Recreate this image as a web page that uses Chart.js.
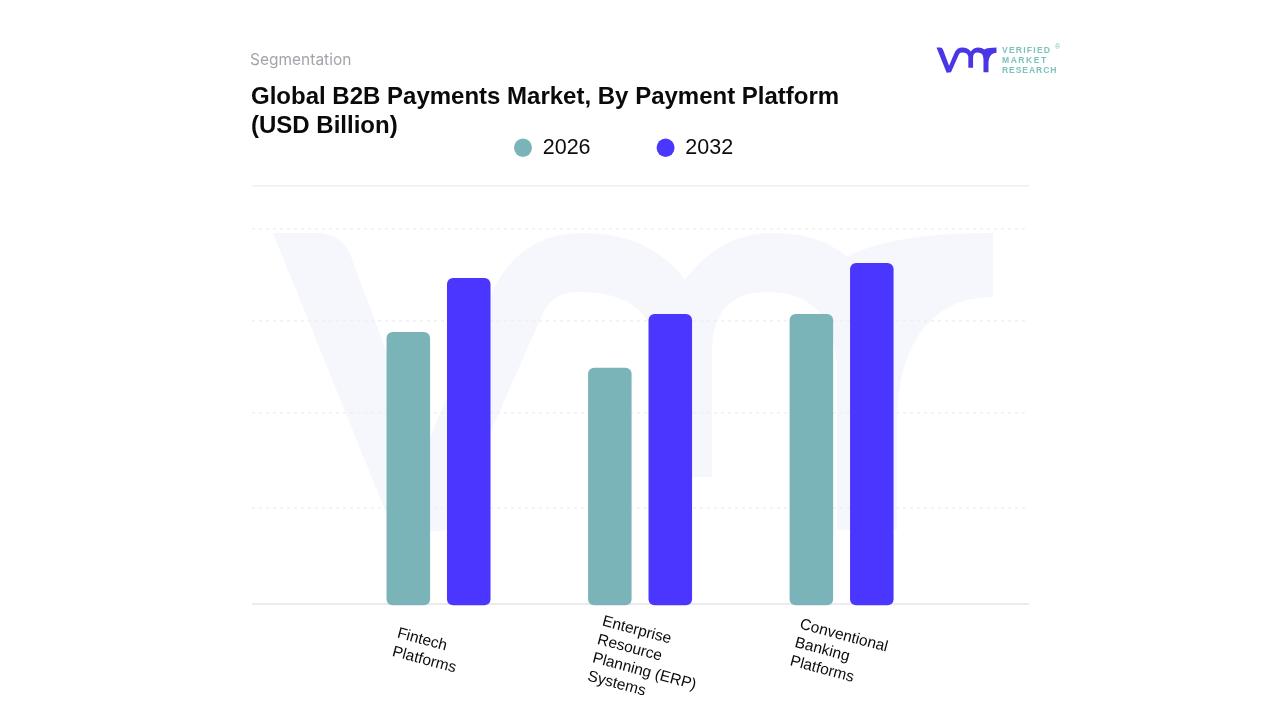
<!DOCTYPE html>
<html>
<head>
<meta charset="utf-8">
<script src="https://cdn.jsdelivr.net/npm/chart.js@4"></script>
<style>
html,body{margin:0;padding:0;background:#fff;width:1280px;height:720px;overflow:hidden}
.t{position:absolute;white-space:nowrap}
#seg{left:250px;top:50px;font:15.5px/19px Inter,sans-serif;color:#a3a3aa}
#title{left:251px;top:81px;font:bold 24px/29px "Liberation Sans",Arial,sans-serif;color:#0a0a0a}
#logo1,#logo2,#logo3{left:1002px;font:bold 8.6px/10px "Liberation Sans",Arial,sans-serif;color:#7cc2bf;letter-spacing:1.2px}
#logo1{top:45px}#logo2{top:55px;letter-spacing:1.5px}#logo3{top:64.5px;letter-spacing:.9px}
#reg{left:1055px;top:43px;font:7px/8px "Liberation Sans",Arial,sans-serif;color:#7cc2bf}
svg{position:absolute;left:0;top:0}
canvas{position:absolute;left:0;top:0}
</style>
</head>
<body>
<svg width="1280" height="720">
  <defs>
    <path id="vmr" d="M273 233 L322 233 Q345 236 353 262 L424 451 L490 297 Q517 233 583 233 Q650 233 685 280 Q720 233 773 233 Q820 233 847 257 Q890 233 993 233 L993 297 Q925 297 903 370 Q897 395 897 420 L897 530 L837 530 L837 370 Q835 292 767 292 Q712 292 712 353 L712 477 L655 477 L655 345 Q650 292 577 292 Q550 292 540 320 L447 530 L395 535 Z"/>
  </defs>
  <use href="#vmr" fill="#f6f7fd"/>
  <use href="#vmr" fill="#4a36e4" transform="translate(936.5 47.5) scale(0.0833) translate(-273 -233)"/>
</svg>
<canvas id="c" width="1280" height="720"></canvas>
<div class="t" id="seg">Segmentation</div>
<div class="t" id="title">Global B2B Payments Market, By Payment Platform<br>(USD Billion)</div>
<div class="t" id="logo1">VERIFIED</div>
<div class="t" id="logo2">MARKET</div>
<div class="t" id="logo3">RESEARCH</div>
<div class="t" id="reg">®</div>
<script>
const categories = [
  ["Fintech", "Platforms"],
  ["Enterprise", "Resource", "Planning (ERP)", "Systems"],
  ["Conventional", "Banking", "Platforms"]
];
const seriesNames = ["2026", "2032"];
const values2026 = [65.1, 56.5, 69.4];
const values2032 = [78.0, 69.4, 81.6];
const gridTicks = [0, 23, 45.7, 67.7, 89.7, 100];

const labelOffsetX = [-38.5, -35, -39];
const labelTop = [624, 612, 615];

function toPoints(arr){ return arr.map((y, i) => ({x: i, y})); }

const placeLegend = {
  id: 'placeLegend',
  beforeLayout(chart){
    chart.legend.isHorizontal = () => true;
  },
  afterLayout(chart){
    const l = chart.legend;
    const w = l.right - l.left;
    l.left = 448; l.right = 448 + w;
    l.top = 71;
  }
};

new Chart(document.getElementById('c'), {
  type: 'bar',
  data: {
    datasets: [
      {label: seriesNames[0], data: toPoints(values2026), backgroundColor: '#7bb4b8'},
      {label: seriesNames[1], data: toPoints(values2032), backgroundColor: '#4b36ff'}
    ]
  },
  plugins: [placeLegend],
  options: {
    responsive: false,
    animation: false,
    layout: {padding: {left: 252, right: 251, top: 186, bottom: 0}},
    datasets: {bar: {categoryPercentage: 0.6, barPercentage: 0.72, borderRadius: 6, borderSkipped: false, base: -0.3, clip: false}},
    scales: {
      x: {
        type: 'linear',
        offset: false,
        min: -0.9256,
        max: 2.93,
        grid: {display: false},
        border: {display: false},
        afterBuildTicks(scale){
          scale.ticks = categories.map((_, i) => ({value: i}));
          if (!scale._labelsPatched) {
            scale._labelsPatched = true;
            const orig = scale._computeLabelItems;
            scale._computeLabelItems = function(area){
              const items = orig.call(this, area);
              items.forEach((it, i) => {
                it.options.textAlign = 'left';
                it.options.translation = [this.getPixelForValue(i) + labelOffsetX[i], labelTop[i]];
              });
              return items;
            };
          }
        },
        afterFit(scale){ scale.height = 116; },
        ticks: {
          autoSkip: false,
          minRotation: -15,
          maxRotation: -15,
          color: '#0c0c0c',
          font: {family: '"Liberation Sans", Arial, sans-serif', size: 15.5, lineHeight: 1.225},
          callback: (v) => categories[v]
        }
      },
      y: {
        min: 0,
        max: 100,
        afterBuildTicks(scale){ scale.ticks = gridTicks.map(value => ({value})); },
        afterFit(scale){ scale.width = 0; },
        ticks: {display: false},
        border: {display: false, dash: ctx => (ctx.tick && (ctx.tick.value === 0 || ctx.tick.value === 100)) ? [] : [3, 4]},
        grid: {
          drawTicks: false,
          lineWidth: ctx => ctx.tick && ctx.tick.value === 0 ? 2 : 1.5,
          color: ctx => ctx.tick && ctx.tick.value === 0 ? '#e9ebef' : '#f0f0f2'
        }
      }
    },
    plugins: {
      title: {display: false},
      tooltip: {enabled: false},
      legend: {
        position: 'chartArea',
        align: 'start',
        labels: {
          usePointStyle: true,
          pointStyle: 'circle',
          boxWidth: 18,
          boxHeight: 13,
          pointStyleWidth: 18,
          padding: 66,
          color: '#0c0c0c',
          font: {family: '"Liberation Sans", Arial, sans-serif', size: 21.5}
        }
      }
    }
  }
});
</script>
</body>
</html>
